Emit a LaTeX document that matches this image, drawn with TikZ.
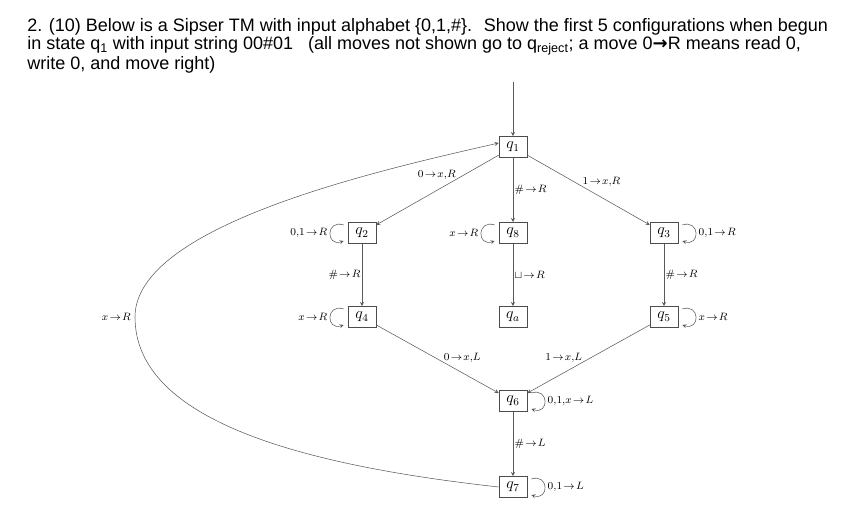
\documentclass[tikz,border=0pt]{standalone}
\usepackage{fontspec}
\newfontfamily\hdr{Liberation Sans}
\newfontfamily\djv{DejaVu Sans}
\begin{document}
\begin{tikzpicture}[x=0.75pt,y=-0.75pt,
  st/.style={draw=black!70,minimum width=21pt,minimum height=16pt,inner sep=1pt,font=\large},
  ed/.style={draw=black!65,->,>=stealth,thin},
  lb/.style={font=\footnotesize,inner sep=1pt}]
\useasboundingbox (0,0) rectangle (866,514);
\node[anchor=north west,align=left,font=\hdr\fontsize{13.5}{13.5}\selectfont,inner sep=0] (hd) at (27,18) {2. (10) Below is a Sipser TM with input alphabet \{0,1,\#\}.~ Show the first 5 configurations when begun\\in state q\textsubscript{1} with input string 00\#01~~ (all moves not shown go to q\textsubscript{reject}; a move 0{\djv\bfseries →}R means read 0,\\write 0, and move right)};
\node[st] (q1) at (513,147) {$q_1$};
\node[st] (q2) at (362,233) {$q_2$};
\node[st] (q8) at (513,233) {$q_8$};
\node[st] (q3) at (664,233) {$q_3$};
\node[st] (q4) at (362,317) {$q_4$};
\node[st] (qa) at (513,317) {$q_a$};
\node[st] (q5) at (664,317) {$q_5$};
\node[st] (q6) at (513,401) {$q_6$};
\node[st] (q7) at (513,487) {$q_7$};
\coordinate (s) at (513,82);
\coordinate (far) at (135,317);
\draw[ed] (s) -- (q1);
\draw[ed] (q1) -- node[lb,pos=0.35,above left=-1pt] {$0\!\to\! x{,}R$} (q2);
\draw[ed] (q1) -- node[lb,right] {$\#\!\to\! R$} (q8);
\draw[ed] (q1) -- node[lb,pos=0.45,above right=-1pt] {$1\!\to\! x{,}R$} (q3);
\draw[ed] (q2) -- node[lb,left] {$\#\!\to\! R$} (q4);
\draw[ed] (q8) -- node[lb,right] {$\sqcup\!\to\! R$} (qa);
\draw[ed] (q3) -- node[lb,right] {$\#\!\to\! R$} (q5);
\draw[ed] (q4) -- node[lb,pos=0.55,above right=-1pt] {$0\!\to\! x{,}L$} (q6);
\draw[ed] (q5) -- node[lb,pos=0.55,above left=-1pt] {$1\!\to\! x{,}L$} (q6);
\draw[ed] (q6) -- node[lb,right] {$\#\!\to\! L$} (q7);
\draw[ed] (q7.west) .. controls (300,465) and (135,420) .. (far) .. controls (135,225) and (380,170) .. ([yshift=3pt]q1.west);
\node[lb,left=2pt] (xl) at (far) {$x\!\to\! R$};
\foreach \n/\t in {q2/{0{,}1\!\to\! R},q8/{x\!\to\! R},q4/{x\!\to\! R}}{
  \draw[ed] ([shift={(-4,-8)}]\n.west) .. controls +(-18,-6) and +(-18,6) .. node[lb,left=1pt] {$\t$} ([shift={(-4,8)}]\n.west);}
\foreach \n/\t in {q3/{0{,}1\!\to\! R},q5/{x\!\to\! R},q6/{0{,}1{,}x\!\to\! L},q7/{0{,}1\!\to\! L}}{
  \draw[ed] ([shift={(4,-8)}]\n.east) .. controls +(18,-6) and +(18,6) .. node[lb,right=1pt] {$\t$} ([shift={(4,8)}]\n.east);}
\end{tikzpicture}
\end{document}
